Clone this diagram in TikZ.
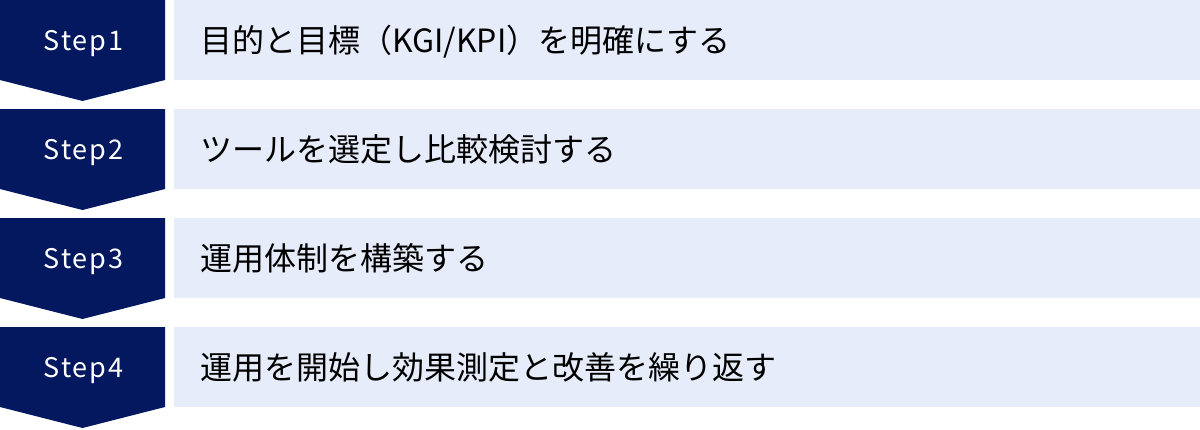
\documentclass[tikz,border=0pt]{standalone}
\usepackage{fontspec}
\setmainfont{Noto Sans CJK JP}
\newfontfamily\jpfont{Noto Sans CJK JP}
\newfontfamily\stepfont[LetterSpace=7]{Noto Sans CJK JP}
\definecolor{navy}{RGB}{4,24,96}
\definecolor{lightbg}{RGB}{230,236,249}
\begin{document}
\begin{tikzpicture}[x=1pt,y=-1pt,
  stepshape/.style={fill=navy,draw=none},
  stepbg/.style={fill=lightbg,draw=none},
  steplabel/.style={text=white,font=\stepfont\fontsize{27}{27}\selectfont,inner sep=0pt,anchor=base},
  desc/.style={text=black,font=\jpfont\fontsize{32}{32}\selectfont,inner sep=0pt,anchor=base west}]
\useasboundingbox (0,0) rectangle (1200,429);
\foreach \i in {0,1,2,3}{
  \pgfmathsetmacro{\yy}{\i*109}
  \fill[stepshape] (0,\yy) -- (165,\yy) -- (165,\yy+80) -- (82.5,\yy+101) -- (0,\yy+80) -- cycle;
  \fill[stepbg] (174,\yy) rectangle (1200,\yy+80);
}
\node[steplabel] (s1) at (83.5,50.7) {Step1};
\node[steplabel] (s2) at (83.5,159.7) {Step2};
\node[steplabel] (s3) at (83.5,268.7) {Step3};
\node[steplabel] (s4) at (83.5,377.7) {Step4};
\node[desc] (d1) at (200,52) {目的と目標（KGI/KPI）を明確にする};
\node[desc] (d2) at (200,161) {ツールを選定し比較検討する};
\node[desc] (d3) at (200,270) {運用体制を構築する};
\node[desc] (d4) at (200,379) {運用を開始し効果測定と改善を繰り返す};
\end{tikzpicture}
\end{document}
